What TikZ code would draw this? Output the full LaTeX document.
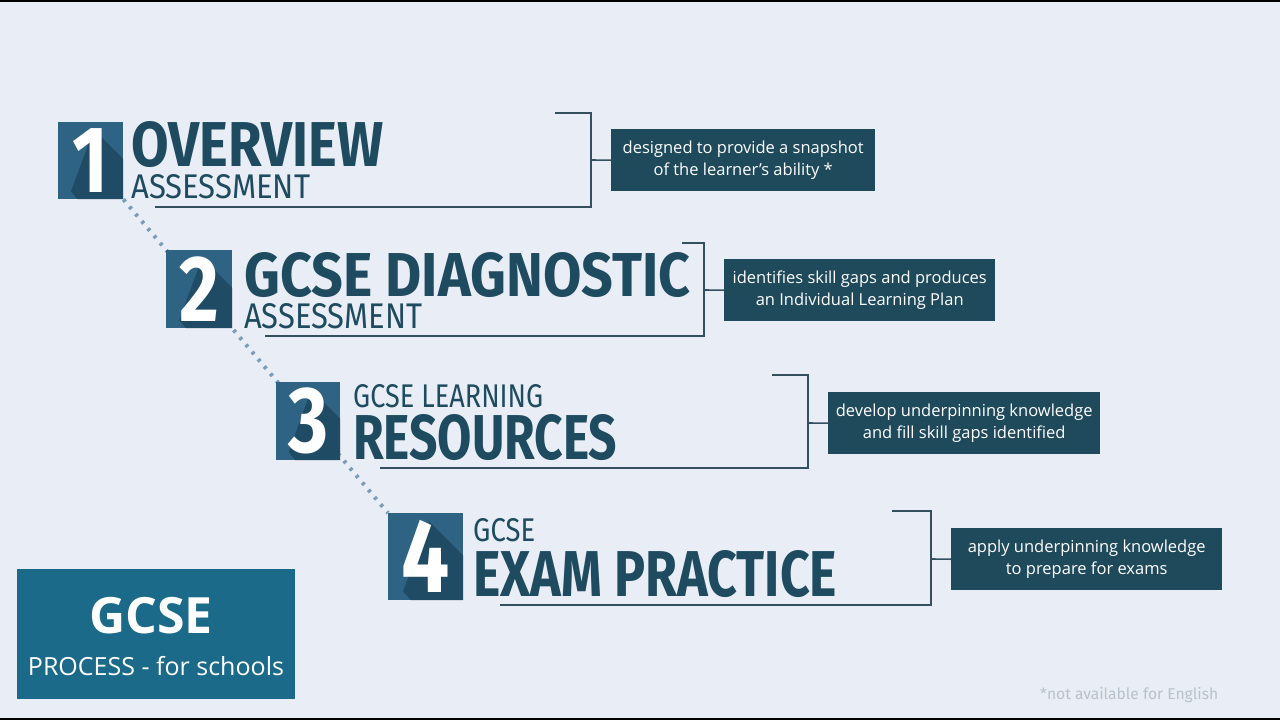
\documentclass[tikz,border=0pt]{standalone}
\usepackage{fontspec}
\setmainfont{Open Sans}
\newfontfamily\headfont{Fira Sans}
\usetikzlibrary{calc}
\definecolor{bgc}{HTML}{E9EDF5}
\definecolor{titlec}{HTML}{1E4B5F}
\definecolor{descbg}{HTML}{1F4A5C}
\definecolor{numbase}{HTML}{2F6383}
\definecolor{numdark}{HTML}{1F4B64}
\definecolor{gbox}{HTML}{1B6A89}
\definecolor{dotc}{HTML}{7A9CB8}
\definecolor{footc}{HTML}{B9C2CC}
\definecolor{brk}{HTML}{34505E}
\pgfdeclarelayer{bglayer}
\pgfsetlayers{bglayer,main}
\begin{document}
\begin{tikzpicture}[x=1pt,y=-1pt,
  numbox/.style={fill=numbase, draw=none, inner sep=0pt, anchor=north west},
  digit/.style={text=white, inner sep=0pt, font=\headfont\bfseries},
  desc/.style={fill=descbg, text=white, inner sep=0pt, align=center, anchor=north west, font=\fontsize{16.5}{22}\selectfont},
  bracket/.style={draw=brk, line width=1.6pt},
  titlebig/.style={text=titlec, inner sep=0pt, anchor=north west, font=\headfont\bfseries},
  titlesmall/.style={text=titlec, inner sep=0pt, anchor=north west, font=\headfont},
  dotline/.style={draw=dotc, line width=4pt, dash pattern=on 3pt off 6.5pt}]
\useasboundingbox (0,0) rectangle (1280,720);

% number boxes
\foreach \n/\x/\y/\w/\h in {1/58/122/65/77, 2/166/250/66/78, 3/276/382/64/78, 4/388/513/75/87}{
  \node[numbox, minimum width=\w pt, minimum height=\h pt] (n\n) at (\x,\y) {};
  \fill[numdark] ({\x+0.55*\w},{\y+0.1*\h}) -- ({\x+\w},{\y+0.1*\h+0.45*\w}) -- ({\x+\w},{\y+\h}) -- ({\x+0.3*\w},{\y+\h}) -- ({\x+0.2*\w},{\y+0.9*\h}) -- cycle;
  \node[digit] (g\n) at (n\n.center) {\resizebox{!}{0.83\dimexpr\h pt\relax}{\scalebox{0.82}[1]{\n}}};
}

% titles
\node[titlebig] (t1a) at (131,121) {\resizebox{252pt}{45pt}{OVERVIEW}};
\node[titlesmall] (t1b) at (131,174) {\resizebox{179pt}{24pt}{ASSESSMENT}};
\node[titlebig] (t2a) at (244,252) {\resizebox{446pt}{44pt}{GCSE DIAGNOSTIC}};
\node[titlesmall] (t2b) at (244,303) {\resizebox{178pt}{25pt}{ASSESSMENT}};
\node[titlesmall] (t3a) at (353,384) {\resizebox{190pt}{23pt}{GCSE LEARNING}};
\node[titlebig] (t3b) at (353,414) {\resizebox{264pt}{45pt}{RESOURCES}};
\node[titlesmall] (t4a) at (473,518) {\resizebox{62pt}{23pt}{GCSE}};
\node[titlebig] (t4b) at (473,550) {\resizebox{364pt}{46pt}{EXAM PRACTICE}};

% description boxes
\node[desc, minimum width=264pt, minimum height=62pt] (d1) at (611,129) {designed to provide a snapshot\\of the learner’s ability *};
\node[desc, minimum width=271pt, minimum height=62pt] (d2) at (724,259) {identifies skill gaps and produces\\an Individual Learning Plan};
\node[desc, minimum width=272pt, minimum height=62pt] (d3) at (828,392) {develop underpinning knowledge\\and fill skill gaps identified};
\node[desc, minimum width=271pt, minimum height=62pt] (d4) at (951,528) {apply underpinning knowledge\\to prepare for exams};

% brackets
\draw[bracket] (555,113) -- (591,113) -- (591,207) -- (155,207);
\draw[bracket] (682,243) -- (704,243) -- (704,336) -- (265,336);
\draw[bracket] (772,375) -- (808,375) -- (808,468) -- (380,468);
\draw[bracket] (892,511) -- (931,511) -- (931,605) -- (500,605);
\coordinate (b1) at (591,160);
\coordinate (b2) at (704,290);
\coordinate (b3) at (808,423);
\coordinate (b4) at (931,559);
\draw[bracket] (b1) -- (d1.west);
\draw[bracket] (b2) -- (d2.west);
\draw[bracket] (b3) -- (d3.west);
\draw[bracket] (b4) -- (d4.west);

% GCSE box
\node[fill=gbox, minimum width=278pt, minimum height=130pt, anchor=north west, inner sep=0pt] (gb) at (17,569) {};
\node[text=white, inner sep=0pt, font=\bfseries\fontsize{50}{50}\selectfont] (gbt) at (151,616) {GCSE};
\node[text=white, inner sep=0pt, font=\fontsize{25}{25}\selectfont] (gbp) at (156,666) {PROCESS - for schools};

% footnote
\node[anchor=north west, inner sep=0pt, text=footc] (fn) at (1040,687) {\resizebox{178pt}{!}{\headfont *not available for English}};

\begin{pgfonlayer}{bglayer}
  \fill[bgc] (0,0) rectangle (1280,720);
  \fill[black] (0,0) rectangle (1280,2);
  \fill[black] (0,718) rectangle (1280,720);
  \draw[dotline] (n1.south east) -- (n4.north west);
\end{pgfonlayer}
\end{tikzpicture}
\end{document}
